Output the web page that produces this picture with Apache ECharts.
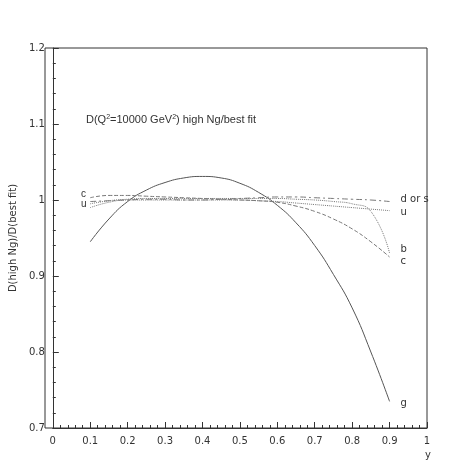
<!DOCTYPE html>
<html><head><meta charset="utf-8">
<script src="https://cdn.jsdelivr.net/npm/echarts@6/dist/echarts.min.js"></script>
<style>body{margin:0}#c{width:474px;height:474px}</style></head>
<body><div id="c"></div>
<script>
const xs = [0.1,0.15,0.2,0.25,0.3,0.35,0.4,0.45,0.5,0.55,0.6,0.65,0.7,0.75,0.8,0.85,0.9];
const gVals = [0.945,0.975,0.998,1.013,1.023,1.029,1.031,1.029,1.022,1.01,0.993,0.97,0.94,0.902,0.858,0.8,0.735];
const dsVals = [0.998,0.999,1.0,1.001,1.001,1.0,1.0,1.001,1.002,1.003,1.004,1.004,1.003,1.002,1.001,1.0,0.998];
const uVals = [0.99,0.997,1.0,1.0,1.0,1.0,1.0,1.0,1.0,0.999,0.998,0.996,0.994,0.992,0.99,0.988,0.986];
const cVals = [1.003,1.006,1.006,1.005,1.004,1.003,1.002,1.001,1.0,0.999,0.997,0.992,0.985,0.975,0.962,0.945,0.925];
const bVals = [0.995,0.999,1.001,1.002,1.002,1.002,1.002,1.002,1.002,1.002,1.002,1.001,1.0,0.998,0.995,0.985,0.93];
const xTicks = [0,0.1,0.2,0.3,0.4,0.5,0.6,0.7,0.8,0.9,1];

const pair = a => xs.map((x,i)=>[x,a[i]]);
const ln = (name,data,type,label,pos) => ({
  name, type:'line', data:pair(data), symbol:'none', smooth:true,
  lineStyle:{color:type==='solid'?'#555':'#777',width:1,type},
  endLabel:{show:true,formatter:label,color:'#333',fontSize:10,offset:pos||[2,0]}
});
const chart = echarts.init(document.getElementById('c'));
chart.setOption({
  animation:false,
  textStyle:{fontFamily:'DejaVu Sans'},
  grid:{left:45,right:47,top:48,bottom:46},
  xAxis:{type:'value',min:0,max:1,interval:0.1,name:'y',nameLocation:'end',nameGap:8,
    nameTextStyle:{verticalAlign:'top',padding:[22,0,0,-10],fontSize:10,color:'#333'},
    axisLine:{lineStyle:{color:'#333'}},axisTick:{inside:true,length:6},
    minorTick:{show:true,splitNumber:5,length:3},
    axisLabel:{color:'#333',fontSize:10,formatter:v=>xTicks.includes(+v.toFixed(1))?String(+v.toFixed(1)):''},
    splitLine:{show:false}},
  yAxis:{type:'value',min:0.7,max:1.2,interval:0.1,name:'D(high Ng)/D(best fit)',
    nameLocation:'end',nameRotate:90,nameGap:-110,
    nameTextStyle:{fontSize:10,color:'#333',padding:[0,0,40,0]},
    axisLine:{lineStyle:{color:'#333'}},axisTick:{inside:true,length:6},
    minorTick:{show:true,splitNumber:5,length:3},
    axisLabel:{color:'#333',fontSize:10,formatter:v=>v===1?'1':v.toFixed(1)},
    splitLine:{show:false}},
  graphic:[
    {type:'rect',shape:{x:45,y:48,width:382,height:380},style:{fill:'none',stroke:'#333'}},
    {type:'text',left:86,top:114,style:{rich:{s:{fontSize:7,verticalAlign:'top'}},
      text:'D(Q{s|2}=10000 GeV{s|2}) high Ng/best fit',fontSize:11,fill:'#333'}},
    {type:'text',left:81,top:189,style:{text:'c',fontSize:10,fill:'#333'}},
    {type:'text',left:81,top:199,style:{text:'u',fontSize:10,fill:'#333'}}
  ],
  series:[
    ln('g',gVals,'solid','g',[3,2]),
    ln('ds',dsVals,[6,3,2,3],'d or s',[3,-2]),
    ln('u',uVals,'dotted','u',[3,2]),
    ln('c',cVals,'dashed','c',[3,4]),
    ln('b',bVals,'dotted','b',[3,-4])
  ]
});
chart.setOption({yAxis:{nameLocation:'middle',nameGap:30,nameTextStyle:{padding:0}}});
</script></body></html>
